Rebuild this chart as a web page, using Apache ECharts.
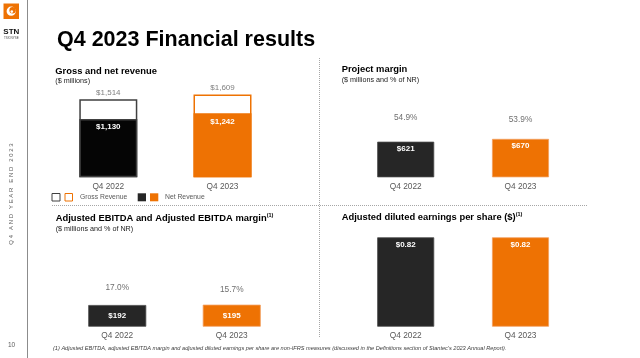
<!DOCTYPE html>
<html>
<head>
<meta charset="utf-8">
<script src="https://cdn.jsdelivr.net/npm/echarts@6/dist/echarts.min.js"></script>
<style>
html,body{margin:0;padding:0;background:#fff;}
#c{width:640px;height:358px;}
</style>
</head>
<body>
<div id="c"></div>
<script>
const categories = ['Q4 2022', 'Q4 2023'];
const grossRevenue = [1514, 1609];
const netRevenue = [1130, 1242];
const projectMargin = [621, 670];
const projectMarginPct = [54.9, 53.9];
const ebitda = [192, 195];
const ebitdaPct = [17.0, 15.7];
const eps = [0.82, 0.82];

const FONT = "'Liberation Sans', Arial, sans-serif";
const ORANGE = '#EE7203';
const DARK = '#262626';
const barColors = [DARK, ORANGE];
const netColors = ['#050505', ORANGE];
const grossBorders = ['#404040', ORANGE];

const chart = echarts.init(document.getElementById('c'), null, {renderer: 'canvas'});

function xAx(gi) {
  return {
    type: 'category', gridIndex: gi, data: categories,
    axisLine: {show: false}, axisTick: {show: false}, splitLine: {show: false},
    axisLabel: {color: '#595959', fontSize: 8.3, fontFamily: FONT, margin: 5}
  };
}
function yAx(gi, min, max) {
  return {type: 'value', gridIndex: gi, min: min, max: max, show: false, splitLine: {show: false}};
}
const money = v => '$' + v.toLocaleString('en-US');
const valLabel = {show: true, position: 'insideTop', distance: 4, color: '#fff', fontWeight: 'bold', fontSize: 8, fontFamily: FONT};
const pctLabel = {show: true, position: 'inside', color: '#4a4a4a', fontSize: 8.3, fontFamily: FONT, formatter: p => p.value.toFixed(1) + '%'};

function txt(x, y, text, opts) {
  return {
    type: 'text', x: x, y: y, silent: true,
    style: Object.assign({
      text: text, fill: '#000', font: '9px ' + FONT,
      textAlign: 'left', textVerticalAlign: 'middle'
    }, opts || {})
  };
}

const option = {
  animation: false,
  backgroundColor: '#fff',
  grid: [
    {left: 51.2, width: 228.4, top: 84.6, height: 92.7},
    {left: 348.3, width: 229.6, top: 99.9, height: 77.4},
    {left: 60, width: 229, top: 236.3, height: 90.4},
    {left: 348.3, width: 229.6, top: 217.7, height: 109}
  ],
  xAxis: [xAx(0), xAx(1), xAx(2), xAx(3)],
  yAxis: [
    yAx(0, 0, 1800),
    yAx(1, 0, 1350), yAx(1, 10, 68.5),
    yAx(2, 0, 800), yAx(2, -2, 41.5),
    yAx(3, 0, 1.0)
  ],
  series: [
    {
      type: 'bar', xAxisIndex: 0, yAxisIndex: 0, barWidth: 58,
      data: grossRevenue.map((v, i) => ({value: v, itemStyle: {color: '#fff', borderColor: grossBorders[i], borderWidth: 1.5}})),
      label: {show: true, position: 'top', distance: 3, color: '#7f7f7f', fontSize: 8, fontFamily: FONT, formatter: p => money(p.value)}
    },
    {
      type: 'bar', xAxisIndex: 0, yAxisIndex: 0, barWidth: 58, barGap: '-100%',
      data: netRevenue.map((v, i) => ({value: v, itemStyle: {color: netColors[i], borderColor: grossBorders[i], borderWidth: 1.5}})),
      label: Object.assign({}, valLabel, {distance: 4, formatter: p => money(p.value)})
    },
    {
      type: 'bar', xAxisIndex: 1, yAxisIndex: 1, barWidth: 57,
      data: projectMargin.map((v, i) => ({value: v, itemStyle: {color: barColors[i], borderColor: i ? '#f3a060' : '#4a4a4a', borderWidth: 0.8}})),
      label: Object.assign({}, valLabel, {distance: 3, formatter: p => money(p.value)})
    },
    {
      type: 'scatter', xAxisIndex: 1, yAxisIndex: 2, symbolSize: 0, data: projectMarginPct,
      label: pctLabel
    },
    {
      type: 'bar', xAxisIndex: 2, yAxisIndex: 3, barWidth: 58,
      data: ebitda.map((v, i) => ({value: v, itemStyle: {color: barColors[i], borderColor: i ? '#f3a060' : '#4a4a4a', borderWidth: 0.8}})),
      label: Object.assign({}, valLabel, {position: 'inside', formatter: p => money(p.value)})
    },
    {
      type: 'scatter', xAxisIndex: 2, yAxisIndex: 4, symbolSize: 0, data: ebitdaPct,
      label: pctLabel
    },
    {
      type: 'bar', xAxisIndex: 3, yAxisIndex: 5, barWidth: 57,
      data: eps.map((v, i) => ({value: v, itemStyle: {color: barColors[i], borderColor: i ? '#f3a060' : '#4a4a4a', borderWidth: 0.8}})),
      label: Object.assign({}, valLabel, {distance: 3, formatter: p => '$' + p.value.toFixed(2)})
    }
  ],
  graphic: [
    // left rail
    {type: 'line', silent: true, shape: {x1: 27.5, y1: 0, x2: 27.5, y2: 358}, style: {stroke: '#8c8c8c', lineWidth: 1}},
    {type: 'rect', silent: true, shape: {x: 3.5, y: 3.5, width: 15.5, height: 15.5}, style: {fill: ORANGE}},
    {type: 'circle', silent: true, shape: {cx: 11.2, cy: 11.2, r: 4.6}, style: {fill: '#fff'}},
    {type: 'circle', silent: true, shape: {cx: 12.6, cy: 10.2, r: 3.2}, style: {fill: ORANGE}},
    {type: 'circle', silent: true, shape: {cx: 11.8, cy: 11.6, r: 1.3}, style: {fill: '#fff'}},
    txt(11.3, 32, 'STN', {font: 'bold 8px ' + FONT, textAlign: 'center', fill: '#111'}),
    txt(11.3, 37.8, 'TSX NYSE', {font: '3px ' + FONT, textAlign: 'center', fill: '#444'}),
    {
      type: 'text', x: 11.7, y: 194, rotation: Math.PI / 2, silent: true,
      style: {text: 'Q 4   A N D   Y E A R   E N D   2 0 2 3', fill: '#595959', font: '6px ' + FONT, textAlign: 'center', textVerticalAlign: 'middle'}
    },
    txt(11.5, 345, '10', {font: '6.5px ' + FONT, textAlign: 'center', fill: '#595959'}),
    // title
    txt(57, 40.5, 'Q4 2023 Financial results', {font: 'bold 21.5px ' + FONT, fill: '#000'}),
    // dividers
    {type: 'line', silent: true, shape: {x1: 52, y1: 205.5, x2: 587, y2: 205.5}, style: {stroke: '#a6a6a6', lineWidth: 1, lineDash: [1, 1]}},
    {type: 'line', silent: true, shape: {x1: 319.5, y1: 58, x2: 319.5, y2: 337}, style: {stroke: '#a6a6a6', lineWidth: 1, lineDash: [1, 1]}},
    // panel titles
    txt(55.3, 71, 'Gross and net revenue', {font: 'bold 9.4px ' + FONT}),
    txt(55.3, 81.2, '($ millions)', {font: '7.2px ' + FONT, fill: '#222'}),
    txt(341.7, 69.3, 'Project margin', {font: 'bold 9.4px ' + FONT}),
    txt(341.7, 80, '($ millions and % of NR)', {font: '7.2px ' + FONT, fill: '#222'}),
    {
      type: 'text', x: 55.7, y: 218.3, silent: true,
      style: {
        text: '{t|Adjusted EBITDA and Adjusted EBITDA margin}{s|(1)}',
        textAlign: 'left', textVerticalAlign: 'middle',
        rich: {
          t: {fontFamily: FONT, fontWeight: 'bold', fontSize: 9.4, fill: '#000', textFill: '#000'},
          s: {fontFamily: FONT, fontWeight: 'bold', fontSize: 5.5, fill: '#000', textFill: '#000', padding: [0, 0, 5, 0]}
        }
      }
    },
    txt(55.7, 229, '($ millions and % of NR)', {font: '7.2px ' + FONT, fill: '#222'}),
    {
      type: 'text', x: 341.7, y: 217.3, silent: true,
      style: {
        text: '{t|Adjusted diluted earnings per share ($)}{s|(1)}',
        textAlign: 'left', textVerticalAlign: 'middle',
        rich: {
          t: {fontFamily: FONT, fontWeight: 'bold', fontSize: 9.4, fill: '#000', textFill: '#000'},
          s: {fontFamily: FONT, fontWeight: 'bold', fontSize: 5.5, fill: '#000', textFill: '#000', padding: [0, 0, 5, 0]}
        }
      }
    },
    // legend
    {type: 'rect', silent: true, shape: {x: 52, y: 193.5, width: 8, height: 7.5}, style: {fill: '#fff', stroke: '#404040', lineWidth: 1}},
    {type: 'rect', silent: true, shape: {x: 65, y: 193.5, width: 7.5, height: 7.5}, style: {fill: '#fff', stroke: ORANGE, lineWidth: 1}},
    txt(80, 197.5, 'Gross Revenue', {font: '6.8px ' + FONT, fill: '#595959'}),
    {type: 'rect', silent: true, shape: {x: 137.7, y: 193.3, width: 8.3, height: 8}, style: {fill: DARK}},
    {type: 'rect', silent: true, shape: {x: 150, y: 193.3, width: 8.3, height: 8}, style: {fill: ORANGE}},
    txt(165, 197.5, 'Net Revenue', {font: '6.8px ' + FONT, fill: '#595959'}),
    // footnote
    txt(53, 348.5, "(1) Adjusted EBITDA, adjusted EBITDA margin and adjusted diluted earnings per share are non-IFRS measures (discussed in the Definitions section of Stantec's 2023 Annual Report).", {font: 'italic 5.6px ' + FONT, fill: '#404040'})
  ]
};
chart.setOption(option);
</script>
</body>
</html>
